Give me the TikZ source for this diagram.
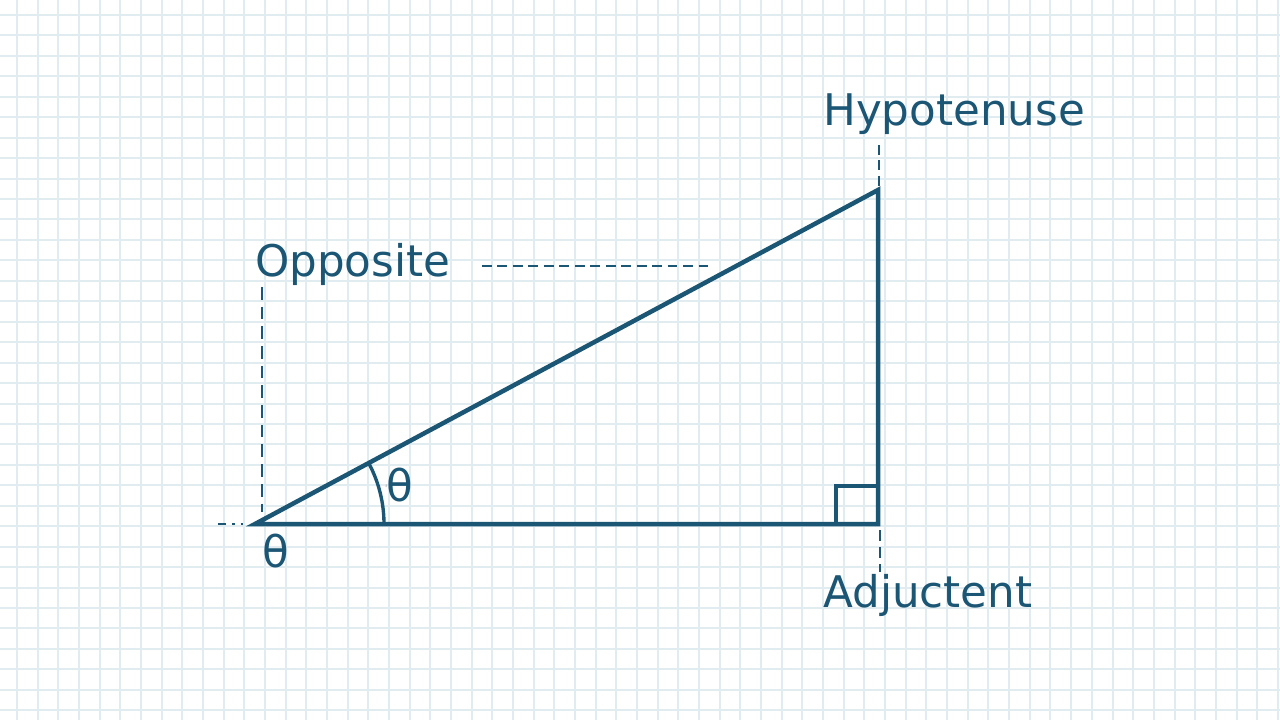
\documentclass[tikz,border=0pt]{standalone}
\usepackage{fontspec}
\setmainfont{DejaVu Sans}
\usetikzlibrary{positioning}
\definecolor{ink}{HTML}{1B5674}
\definecolor{gridblue}{HTML}{E1ECF1}

\begin{document}
\begin{tikzpicture}[x=0.025cm,y=-0.025cm,
  side/.style={ink, line width=3.2pt},
  guide/.style={ink, line width=1.8pt, dash pattern=on 7pt off 4pt},
  lbl/.style={text=ink, font=\fontsize{31}{36}\selectfont, inner sep=0pt}]
\useasboundingbox (0,0) rectangle (1280,720);
\fill[white] (0,0) rectangle (1280,720);
% graph paper
\foreach \i in {0,...,61} {
  \pgfmathsetmacro\gx{round(17+20.67*\i)}
  \draw[gridblue, line width=0.8pt] (\gx,0) -- (\gx,720);
}
\foreach \i in {0,...,34} {
  \pgfmathsetmacro\gy{round(15+20.45*\i)}
  \draw[gridblue, line width=0.8pt] (0,\gy) -- (1280,\gy);
}

% corners of the triangle
\coordinate (A) at (255,524);
\coordinate (B) at (878,524);
\coordinate (C) at (878,190);

\draw[side, line join=miter] (A) -- (B) -- (C) -- cycle;
\draw[ink, line width=2.4pt] (836,524) -- (836,486) -- (878,486);   % right angle
\draw[ink, line width=2.4pt] (A) ++(0:129) arc[start angle=0, end angle=-28.2, radius=129]; % angle

% labels
\node[lbl, anchor=base west] (hyp) at (823,126) {Hypotenuse};
\node[lbl, anchor=base west] (opp) at (255,277) {Opposite};
\node[lbl, anchor=base west] (adj) at (823,607) {Adjuctent};
\node[lbl, anchor=base] (th1) at (400,501) {θ};
\node[lbl, anchor=base] (th2) at (276,567) {θ};
\draw[gray!60, line width=0.6pt] (386,487) -- (th1.west);

% guide lines
\coordinate (h1) at (879,145);
\coordinate (h2) at (879,186);
\coordinate (o1) at (482,266);
\coordinate (o2) at (710,266);
\coordinate (v1) at (262,287);
\coordinate (v2) at (262,512);
\coordinate (a1) at (880,530);
\coordinate (a2) at (880,572);
\coordinate (d1) at (218,524);
\coordinate (d2) at (244,524);
\draw[guide] (h1) -- (h2);
\draw[guide] (o1) -- (o2);
\draw[guide, dash pattern=on 9pt off 5pt] (v1) -- (v2);
\draw[guide, dash pattern=on 8pt off 4pt] (a1) -- (a2);
\draw[ink, line width=1.8pt, dash pattern=on 6pt off 4pt on 2pt off 4pt on 2pt off 6pt] (d1) -- (d2);
\end{tikzpicture}
\end{document}
